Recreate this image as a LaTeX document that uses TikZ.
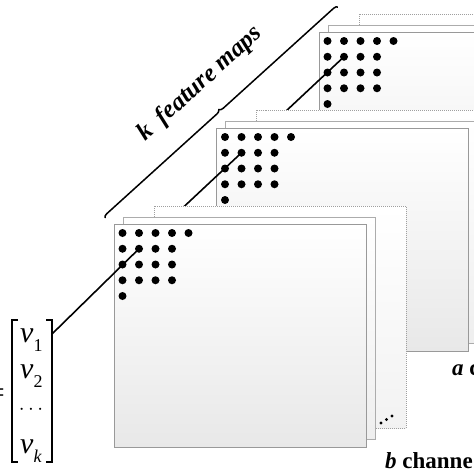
\documentclass[tikz,border=0pt]{standalone}
\usepackage{fontspec}
\setmainfont{Liberation Serif}
\usetikzlibrary{decorations.pathreplacing}
\tikzset{
 fmdot/.style={circle, fill=black, inner sep=0pt, minimum size=8pt},
 frontsheet/.style={draw=gray!80, line width=1pt, top color=white, bottom color=gray!18},
 backsheet/.style={draw=gray!65, line width=0.8pt, top color=white, bottom color=gray!13},
 dashsheet/.style={draw=gray!75, line width=0.6pt, dash pattern=on 1pt off 1pt, top color=white, bottom color=gray!10},
 link/.style={line width=1.6pt, black},
 tinydot/.style={circle, fill=black, inner sep=0pt, minimum size=3.4pt},
 bracketline/.style={line width=1.1pt, black},
 vecentry/.style={inner sep=0pt, font=\fontsize{30}{30}\selectfont},
 axislabel/.style={inner sep=0pt, font=\fontsize{23}{23}\selectfont\bfseries}
}
\newcommand{\subsc}[1]{\raisebox{-9pt}{\fontsize{18}{18}\selectfont #1}}
\newcommand{\fmgroup}[3]{%
 \begin{scope}[shift={(#2,#3)}]
  \path[dashsheet] (40,-18) rectangle ++(252,222);
  \path[backsheet] (9,-7) rectangle ++(252,222);
  \path[frontsheet] (0,0) rectangle (252,223);
  \foreach \c in {1,...,5} \node[fmdot] (#1r1c\c) at ({8.5+16.5*(\c-1)},9) {};
  \foreach \r in {2,3,4} \foreach \c in {1,...,4} \node[fmdot] (#1r\r c\c) at ({8.5+16.5*(\c-1)},{9+15.75*(\r-1)}) {};
  \node[fmdot] (#1r5c1) at (8.5,72) {};
 \end{scope}}
\begin{document}
\begin{tikzpicture}[x=1pt,y=-1pt]
\useasboundingbox (0,0) rectangle (474,474);
\clip (0,0) rectangle (474,474);
% link points
\coordinate (p2) at (241.5,152.75);
\coordinate (p1) at (139,248.75);
\coordinate (v1end) at (52,334);
% groups back to front
\fmgroup{gc}{319}{32}
\draw[link] (gcr2c2.center) -- (p2);
\fmgroup{gb}{216.5}{128}
\draw[link] (gbr2c2.center) -- (p1);
\fmgroup{ga}{114}{224}
\draw[link] (gar2c2.center) -- (v1end);
% small dots
\node[tinydot] (td1) at (381,423) {};
\node[tinydot] (td2) at (386.5,419.5) {};
\node[tinydot] (td3) at (392,416) {};
% brace and label
\coordinate (bl) at (105,218);
\coordinate (tr) at (338,7);
\draw[decorate, decoration={brace, amplitude=4pt}, line width=1.5pt] (bl) -- (tr);
\node[rotate=42, inner sep=0pt, font=\fontsize{25}{25}\selectfont\bfseries\itshape] (fmlabel) at (200,84) {k\ \ feature maps};
% vector
\draw[bracketline] (18,320) -- (12,320) -- (12,462) -- (18,462);
\draw[bracketline] (46,320) -- (52,320) -- (52,462) -- (46,462);
\node[vecentry, anchor=base west] (v1) at (20,342) {\itshape v\subsc{\upshape 1}};
\node[vecentry, anchor=base west] (v2) at (20,378) {\itshape v\subsc{\upshape 2}};
\node[vecentry, font=\fontsize{20}{20}\selectfont] (vdots) at (31,410) {$\cdots$};
\node[vecentry, anchor=base west] (vk) at (20,453) {\itshape v\subsc{k}};
\node[vecentry, anchor=base east] (eq) at (5,402) {=};
% axis labels
\node[axislabel, anchor=base west] (alab) at (452,375) {\textit{a} c};
\node[axislabel, anchor=base west] (blab) at (385,468) {\textit{b} channe};
\end{tikzpicture}
\end{document}
